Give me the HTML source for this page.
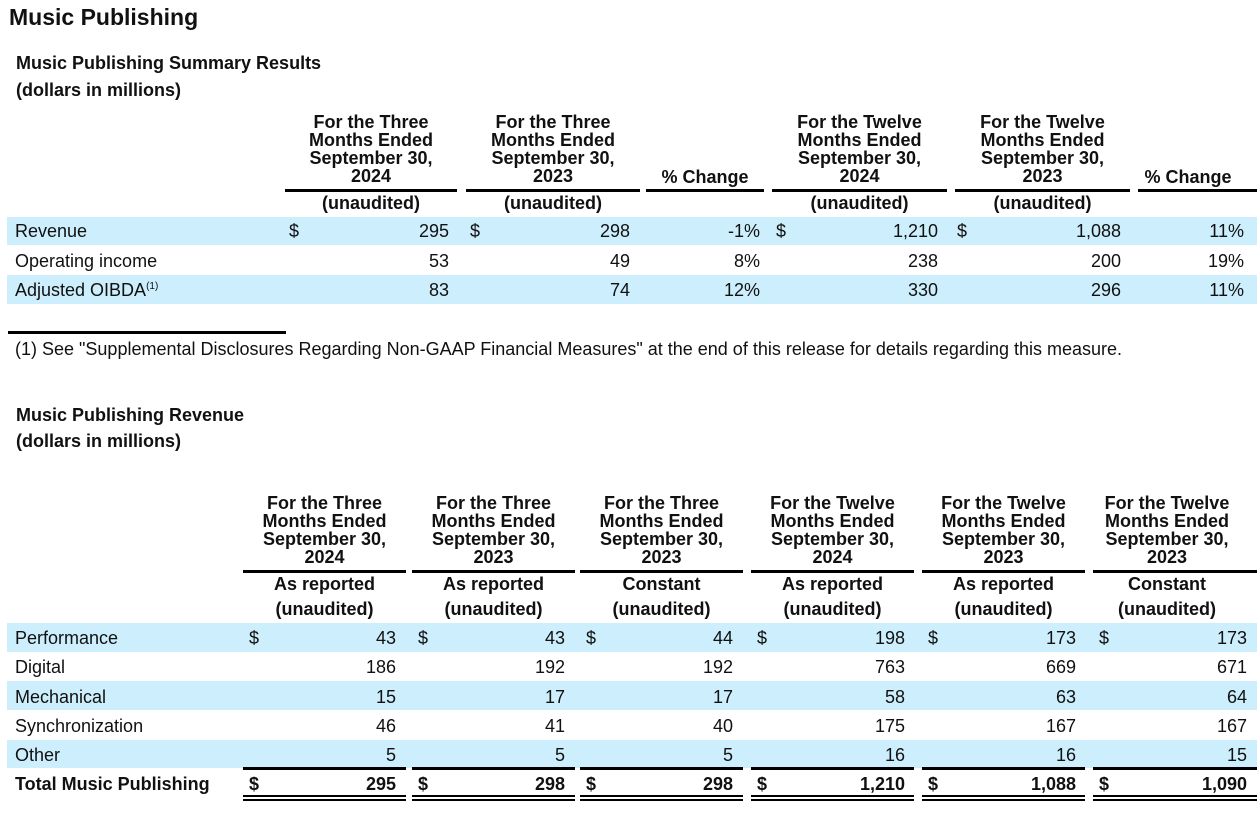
<!DOCTYPE html>
<html><head><meta charset="utf-8"><style>
body{margin:0;width:1257px;height:817px;background:#fff;position:relative;overflow:hidden;font-family:"Liberation Sans",Arial,sans-serif;color:#111;}
div{position:absolute;white-space:nowrap;}
.t{font-size:18px;line-height:20px;}
.b{font-weight:bold;}
.h{font-size:18px;line-height:18px;font-weight:bold;text-align:center;}
.r{text-align:right;}
.s{background:#cdeefc;left:7px;width:1250px;}
.ln{background:#000;height:3px;}
</style></head><body>
<div class="b" style="left:9px;top:4px;font-size:23px;line-height:26px;">Music Publishing</div>
<div class="t b" style="left:16px;top:53px;">Music Publishing Summary Results</div>
<div class="t b" style="left:16px;top:80px;">(dollars in millions)</div>

<div class="s" style="top:217px;height:28px;"></div>
<div class="s" style="top:275px;height:29px;"></div>

<div class="h" style="left:285px;width:172px;top:113px;">For the Three<br>Months Ended<br>September 30,<br>2024</div>
<div class="h" style="left:466px;width:174px;top:113px;">For the Three<br>Months Ended<br>September 30,<br>2023</div>
<div class="h" style="left:646px;width:118px;top:168px;">% Change</div>
<div class="h" style="left:772px;width:175px;top:113px;">For the Twelve<br>Months Ended<br>September 30,<br>2024</div>
<div class="h" style="left:955px;width:175px;top:113px;">For the Twelve<br>Months Ended<br>September 30,<br>2023</div>
<div class="h" style="left:1138px;width:100px;top:168px;">% Change</div>
<div class="ln" style="left:285px;width:172px;top:189px;"></div>
<div class="ln" style="left:466px;width:174px;top:189px;"></div>
<div class="ln" style="left:646px;width:118px;top:189px;"></div>
<div class="ln" style="left:772px;width:175px;top:189px;"></div>
<div class="ln" style="left:955px;width:175px;top:189px;"></div>
<div class="ln" style="left:1138px;width:119px;top:189px;"></div>
<div class="h" style="left:285px;width:172px;top:194px;">(unaudited)</div>
<div class="h" style="left:466px;width:174px;top:194px;">(unaudited)</div>
<div class="h" style="left:772px;width:175px;top:194px;">(unaudited)</div>
<div class="h" style="left:955px;width:175px;top:194px;">(unaudited)</div>

<div class="t" style="left:15px;top:221px;">Revenue</div>
<div class="t" style="left:15px;top:251px;">Operating income</div>
<div class="t" style="left:15px;top:280px;">Adjusted OIBDA<sup style="font-size:10px;line-height:0;">(1)</sup></div>

<div class="t" style="left:289px;top:221px;">$</div>
<div class="t" style="left:470px;top:221px;">$</div>
<div class="t" style="left:776px;top:221px;">$</div>
<div class="t" style="left:957px;top:221px;">$</div>

<div class="t r" style="left:349px;width:100px;top:221px;">295</div>
<div class="t r" style="left:349px;width:100px;top:251px;">53</div>
<div class="t r" style="left:349px;width:100px;top:280px;">83</div>
<div class="t r" style="left:530px;width:100px;top:221px;">298</div>
<div class="t r" style="left:530px;width:100px;top:251px;">49</div>
<div class="t r" style="left:530px;width:100px;top:280px;">74</div>
<div class="t r" style="left:660px;width:100px;top:221px;">-1%</div>
<div class="t r" style="left:660px;width:100px;top:251px;">8%</div>
<div class="t r" style="left:660px;width:100px;top:280px;">12%</div>
<div class="t r" style="left:838px;width:100px;top:221px;">1,210</div>
<div class="t r" style="left:838px;width:100px;top:251px;">238</div>
<div class="t r" style="left:838px;width:100px;top:280px;">330</div>
<div class="t r" style="left:1021px;width:100px;top:221px;">1,088</div>
<div class="t r" style="left:1021px;width:100px;top:251px;">200</div>
<div class="t r" style="left:1021px;width:100px;top:280px;">296</div>
<div class="t r" style="left:1144px;width:100px;top:221px;">11%</div>
<div class="t r" style="left:1144px;width:100px;top:251px;">19%</div>
<div class="t r" style="left:1144px;width:100px;top:280px;">11%</div>

<div class="ln" style="left:8px;width:278px;top:331px;"></div>
<div class="t" style="left:15px;top:339px;">(1) See "Supplemental Disclosures Regarding Non-GAAP Financial Measures" at the end of this release for details regarding this measure.</div>

<div class="t b" style="left:16px;top:405px;">Music Publishing Revenue</div>
<div class="t b" style="left:16px;top:431px;">(dollars in millions)</div>

<div class="s" style="top:623px;height:29px;"></div>
<div class="s" style="top:681px;height:29px;"></div>
<div class="s" style="top:740px;height:28px;"></div>

<div class="h" style="left:243px;width:163px;top:494px;">For the Three<br>Months Ended<br>September 30,<br>2024</div>
<div class="h" style="left:412px;width:163px;top:494px;">For the Three<br>Months Ended<br>September 30,<br>2023</div>
<div class="h" style="left:580px;width:163px;top:494px;">For the Three<br>Months Ended<br>September 30,<br>2023</div>
<div class="h" style="left:751px;width:163px;top:494px;">For the Twelve<br>Months Ended<br>September 30,<br>2024</div>
<div class="h" style="left:922px;width:163px;top:494px;">For the Twelve<br>Months Ended<br>September 30,<br>2023</div>
<div class="h" style="left:1093px;width:148px;top:494px;">For the Twelve<br>Months Ended<br>September 30,<br>2023</div>
<div class="ln" style="left:243px;width:163px;top:570px;"></div>
<div class="ln" style="left:412px;width:163px;top:570px;"></div>
<div class="ln" style="left:580px;width:163px;top:570px;"></div>
<div class="ln" style="left:751px;width:163px;top:570px;"></div>
<div class="ln" style="left:922px;width:163px;top:570px;"></div>
<div class="ln" style="left:1093px;width:164px;top:570px;"></div>
<div class="h" style="left:243px;width:163px;top:575px;">As reported</div>
<div class="h" style="left:412px;width:163px;top:575px;">As reported</div>
<div class="h" style="left:580px;width:163px;top:575px;">Constant</div>
<div class="h" style="left:751px;width:163px;top:575px;">As reported</div>
<div class="h" style="left:922px;width:163px;top:575px;">As reported</div>
<div class="h" style="left:1093px;width:148px;top:575px;">Constant</div>
<div class="h" style="left:243px;width:163px;top:600px;">(unaudited)</div>
<div class="h" style="left:412px;width:163px;top:600px;">(unaudited)</div>
<div class="h" style="left:580px;width:163px;top:600px;">(unaudited)</div>
<div class="h" style="left:751px;width:163px;top:600px;">(unaudited)</div>
<div class="h" style="left:922px;width:163px;top:600px;">(unaudited)</div>
<div class="h" style="left:1093px;width:148px;top:600px;">(unaudited)</div>

<div class="t" style="left:15px;top:628px;">Performance</div>
<div class="t" style="left:15px;top:657px;">Digital</div>
<div class="t" style="left:15px;top:687px;">Mechanical</div>
<div class="t" style="left:15px;top:716px;">Synchronization</div>
<div class="t" style="left:15px;top:745px;">Other</div>
<div class="t b" style="left:15px;top:774px;">Total Music Publishing</div>

<div class="t" style="left:249px;top:628px;">$</div>
<div class="t" style="left:418px;top:628px;">$</div>
<div class="t" style="left:586px;top:628px;">$</div>
<div class="t" style="left:757px;top:628px;">$</div>
<div class="t" style="left:928px;top:628px;">$</div>
<div class="t" style="left:1099px;top:628px;">$</div>
<div class="t b" style="left:249px;top:774px;">$</div>
<div class="t b" style="left:418px;top:774px;">$</div>
<div class="t b" style="left:586px;top:774px;">$</div>
<div class="t b" style="left:757px;top:774px;">$</div>
<div class="t b" style="left:928px;top:774px;">$</div>
<div class="t b" style="left:1099px;top:774px;">$</div>

<div class="t r" style="left:296px;width:100px;top:628px;">43</div>
<div class="t r" style="left:296px;width:100px;top:657px;">186</div>
<div class="t r" style="left:296px;width:100px;top:687px;">15</div>
<div class="t r" style="left:296px;width:100px;top:716px;">46</div>
<div class="t r" style="left:296px;width:100px;top:745px;">5</div>
<div class="t r b" style="left:296px;width:100px;top:774px;">295</div>

<div class="t r" style="left:465px;width:100px;top:628px;">43</div>
<div class="t r" style="left:465px;width:100px;top:657px;">192</div>
<div class="t r" style="left:465px;width:100px;top:687px;">17</div>
<div class="t r" style="left:465px;width:100px;top:716px;">41</div>
<div class="t r" style="left:465px;width:100px;top:745px;">5</div>
<div class="t r b" style="left:465px;width:100px;top:774px;">298</div>

<div class="t r" style="left:633px;width:100px;top:628px;">44</div>
<div class="t r" style="left:633px;width:100px;top:657px;">192</div>
<div class="t r" style="left:633px;width:100px;top:687px;">17</div>
<div class="t r" style="left:633px;width:100px;top:716px;">40</div>
<div class="t r" style="left:633px;width:100px;top:745px;">5</div>
<div class="t r b" style="left:633px;width:100px;top:774px;">298</div>

<div class="t r" style="left:805px;width:100px;top:628px;">198</div>
<div class="t r" style="left:805px;width:100px;top:657px;">763</div>
<div class="t r" style="left:805px;width:100px;top:687px;">58</div>
<div class="t r" style="left:805px;width:100px;top:716px;">175</div>
<div class="t r" style="left:805px;width:100px;top:745px;">16</div>
<div class="t r b" style="left:805px;width:100px;top:774px;">1,210</div>

<div class="t r" style="left:976px;width:100px;top:628px;">173</div>
<div class="t r" style="left:976px;width:100px;top:657px;">669</div>
<div class="t r" style="left:976px;width:100px;top:687px;">63</div>
<div class="t r" style="left:976px;width:100px;top:716px;">167</div>
<div class="t r" style="left:976px;width:100px;top:745px;">16</div>
<div class="t r b" style="left:976px;width:100px;top:774px;">1,088</div>

<div class="t r" style="left:1147px;width:100px;top:628px;">173</div>
<div class="t r" style="left:1147px;width:100px;top:657px;">671</div>
<div class="t r" style="left:1147px;width:100px;top:687px;">64</div>
<div class="t r" style="left:1147px;width:100px;top:716px;">167</div>
<div class="t r" style="left:1147px;width:100px;top:745px;">15</div>
<div class="t r b" style="left:1147px;width:100px;top:774px;">1,090</div>

<div class="ln" style="left:243px;width:163px;top:767px;"></div>
<div class="ln" style="left:412px;width:163px;top:767px;"></div>
<div class="ln" style="left:580px;width:163px;top:767px;"></div>
<div class="ln" style="left:751px;width:163px;top:767px;"></div>
<div class="ln" style="left:922px;width:163px;top:767px;"></div>
<div class="ln" style="left:1093px;width:164px;top:767px;"></div>
<div style="left:243px;width:163px;top:795px;height:2px;background:#000"></div><div style="left:243px;width:163px;top:799px;height:2px;background:#000"></div>
<div style="left:412px;width:163px;top:795px;height:2px;background:#000"></div><div style="left:412px;width:163px;top:799px;height:2px;background:#000"></div>
<div style="left:580px;width:163px;top:795px;height:2px;background:#000"></div><div style="left:580px;width:163px;top:799px;height:2px;background:#000"></div>
<div style="left:751px;width:163px;top:795px;height:2px;background:#000"></div><div style="left:751px;width:163px;top:799px;height:2px;background:#000"></div>
<div style="left:922px;width:163px;top:795px;height:2px;background:#000"></div><div style="left:922px;width:163px;top:799px;height:2px;background:#000"></div>
<div style="left:1093px;width:164px;top:795px;height:2px;background:#000"></div><div style="left:1093px;width:164px;top:799px;height:2px;background:#000"></div>
</body></html>
